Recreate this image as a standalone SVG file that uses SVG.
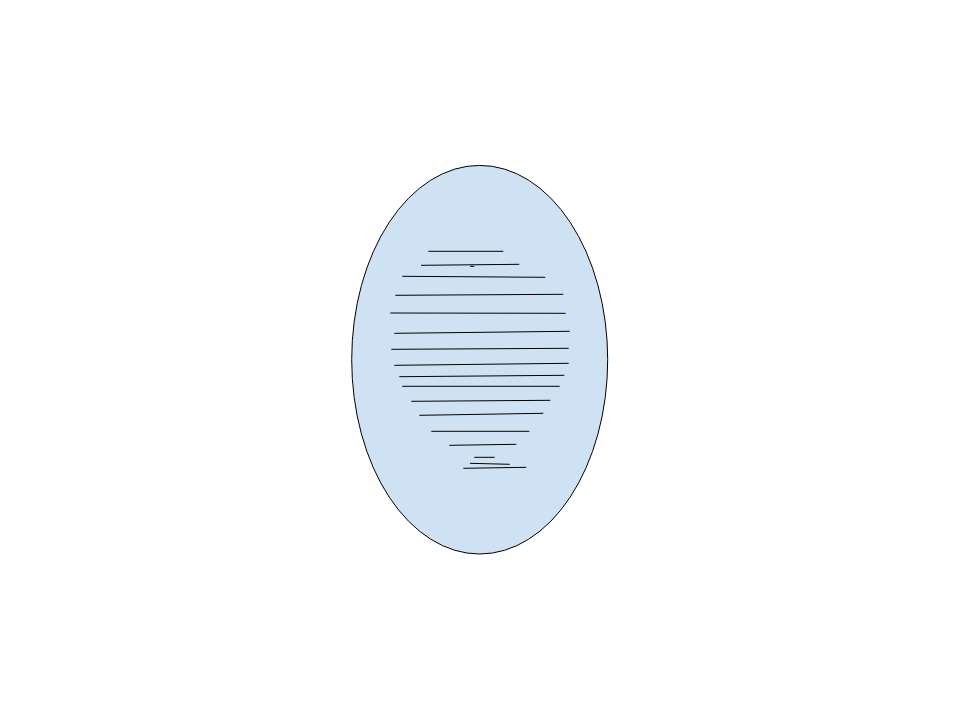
<svg xmlns="http://www.w3.org/2000/svg" width="960" height="720" viewBox="0 0 960 720">
<style>
.node{fill:#cfe2f3;stroke:#000;stroke-width:1}
.ln{stroke:#000;stroke-width:1;fill:none}
</style>
<rect width="960" height="720" fill="#fff"/>
<g id="node-ellipse">
<ellipse class="node" cx="479.7" cy="359.7" rx="128" ry="194.3"/>
</g>
<g id="connectors">
<line class="ln" x1="428.3" y1="251.3" x2="503.3" y2="251.3"/>
<line class="ln" x1="421" y1="265.3" x2="519.3" y2="264.3"/>
<line class="ln" x1="470" y1="266.3" x2="474.3" y2="266.3" stroke-width="1.5"/>
<line class="ln" x1="402.3" y1="276.3" x2="545.3" y2="277.3"/>
<line class="ln" x1="395.3" y1="295.3" x2="563.3" y2="294.3"/>
<line class="ln" x1="390.3" y1="313" x2="565.7" y2="313.3"/>
<line class="ln" x1="394.3" y1="333.3" x2="569.7" y2="331.3"/>
<line class="ln" x1="391.3" y1="349.3" x2="568.7" y2="348.3"/>
<line class="ln" x1="394.3" y1="365.3" x2="568.7" y2="363.3"/>
<line class="ln" x1="399.3" y1="376.7" x2="564.3" y2="375.3"/>
<line class="ln" x1="402.3" y1="386.3" x2="559.7" y2="386.3"/>
<line class="ln" x1="411.3" y1="401.3" x2="550.3" y2="400.3"/>
<line class="ln" x1="419.3" y1="415.3" x2="543.3" y2="413.3"/>
<line class="ln" x1="431.3" y1="431.3" x2="529.3" y2="431.3"/>
<line class="ln" x1="449.3" y1="445.3" x2="516.3" y2="444.3"/>
<line class="ln" x1="474.3" y1="457.3" x2="494.7" y2="457.3"/>
<line class="ln" x1="470" y1="463.3" x2="509.7" y2="464.3"/>
<line class="ln" x1="463.3" y1="468.3" x2="526.3" y2="467.3"/>
</g>
</svg>
